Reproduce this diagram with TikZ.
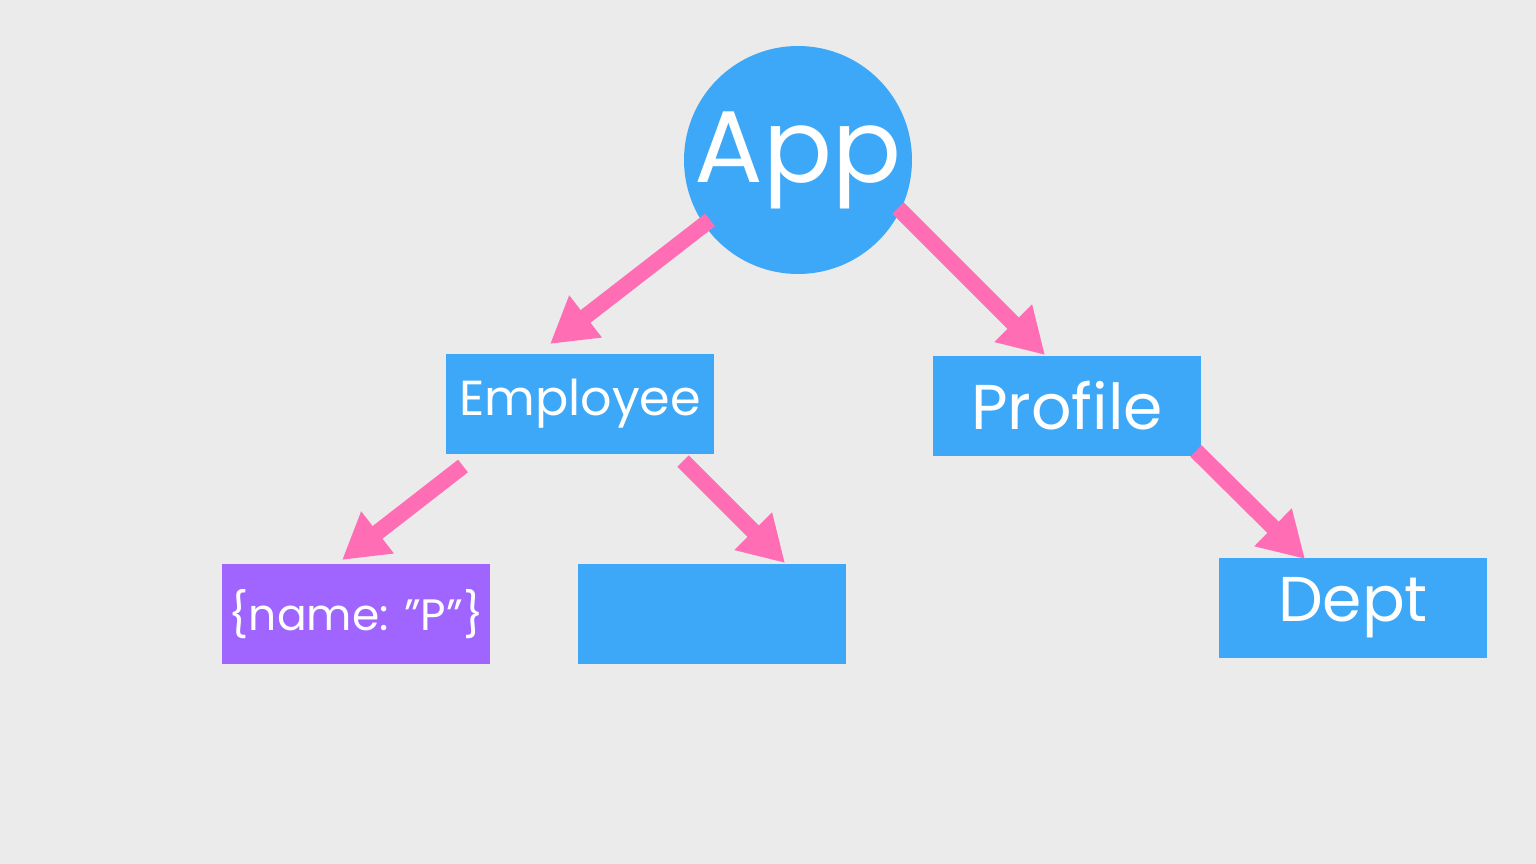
\documentclass[tikz,border=0pt]{standalone}
\usepackage{fontspec}
\setmainfont{Poppins}
\usetikzlibrary{arrows.meta}
\definecolor{bgc}{HTML}{EBEBEB}
\definecolor{boxblue}{HTML}{3DA8F8}
\definecolor{boxpurple}{HTML}{A064FF}
\definecolor{arrpink}{HTML}{FF6EB4}
\tikzset{
  comp/.style={fill=boxblue,minimum width=2.68cm,minimum height=0.99cm,inner sep=0pt,text=white},
  arr/.style={draw=arrpink,line width=0.16cm,-{Triangle[width=0.5cm,length=0.45cm]}}
}
\begin{document}
\begin{tikzpicture}[x=0.01cm,y=-0.01cm]
\fill[bgc] (0,0) rectangle (1536,864);
% nodes
\node[circle,fill=boxblue,minimum size=2.2cm,inner sep=0pt,text=white,font=\fontsize{29}{34}\selectfont] (app) at (798,160) {App};
\node[comp,font=\fontsize{14}{17}\selectfont] (emp) at (580,404) {Employee};
\node[comp,font=\fontsize{18}{22}\selectfont] (prof) at (1067,406) {Profile};
\node[comp,fill=boxpurple,font=\fontsize{12.5}{15}\selectfont] (name) at (356,614) {\{name: "P"\}};
\node[comp] (blank) at (712,614) {};
\node[comp,font=\fontsize{18}{22}\selectfont] (dept) at (1353,608) {Dept};
% arrow ends
\coordinate (a1) at (710,220); \coordinate (b1) at (550,344);
\coordinate (a2) at (898,208); \coordinate (b2) at (1045,355);
\coordinate (a3) at (463,466); \coordinate (b3) at (342,560);
\coordinate (a4) at (683,461); \coordinate (b4) at (785,563);
\coordinate (a5) at (1196,451); \coordinate (b5) at (1305,559);
\foreach \i in {1,...,5}
  \draw[arr] (a\i) -- (b\i);
\end{tikzpicture}
\end{document}
